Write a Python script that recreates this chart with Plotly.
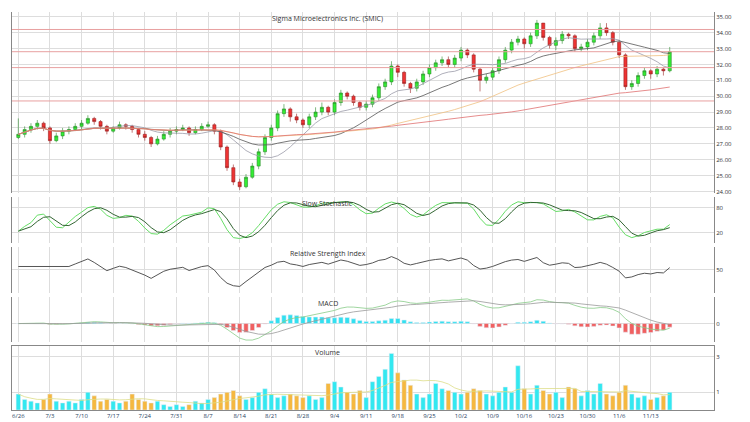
import pandas as pd
import plotly.graph_objects as go

# daily OHLC
closes = [27.6,27.9,28.1,28.3,28.0,27.2,27.5,27.8,27.9,28.1,
          28.3,28.6,28.4,28.1,27.8,28.0,28.2,28.1,27.9,27.6,
          27.4,27.0,27.3,27.6,27.8,27.9,28.0,27.7,27.9,28.1,
          28.2,27.8,26.8,25.5,24.6,24.3,24.9,25.6,26.5,27.4,
          28.0,28.9,29.2,28.7,28.5,28.2,28.7,29.0,29.3,29.0,
          29.6,30.2,30.0,29.6,29.3,29.5,29.9,30.6,30.9,31.9,
          31.5,30.8,30.5,30.9,31.4,31.8,32.1,32.3,32.0,32.4,
          32.9,32.6,31.7,31.0,31.2,31.6,32.3,32.9,33.4,33.6,
          33.3,33.8,34.6,33.7,33.2,33.5,33.9,33.8,33.0,33.1,
          33.4,33.8,34.3,34.0,33.4,32.6,30.6,30.8,31.3,31.6,
          31.4,31.7,31.6,32.8]
opens = [27.4,27.6,27.9,28.1,28.3,28.0,27.2,27.5,27.8,27.9,
         28.1,28.3,28.6,28.4,28.1,27.8,28.0,28.2,28.1,27.9,
         27.6,27.4,27.0,27.3,27.6,27.8,27.9,28.0,27.7,27.9,
         28.1,28.2,27.8,26.8,25.5,24.6,24.3,24.9,25.6,26.5,
         27.4,28.0,28.9,29.2,28.7,28.5,28.2,28.7,29.0,29.3,
         29.0,29.6,30.2,30.0,29.6,29.3,29.5,29.9,30.6,30.9,
         31.9,31.5,30.8,30.5,30.9,31.4,31.8,32.1,32.3,32.0,
         32.4,32.9,32.6,31.7,31.0,31.2,31.6,32.3,32.9,33.4,
         33.6,33.3,33.8,34.6,33.7,33.2,33.5,33.9,33.8,33.0,
         33.1,33.4,33.8,34.3,34.0,33.4,32.6,30.6,30.8,31.3,
         31.6,31.4,31.7,31.6]
highs = [28.6,28.1,28.3,28.5,28.4,28.1,27.7,28.0,28.1,28.3,
         28.5,28.8,28.7,28.5,28.2,28.1,28.4,28.3,28.2,28.0,
         27.8,27.5,27.5,27.8,28.0,28.1,28.2,28.1,28.1,28.3,
         28.4,28.3,27.9,26.9,25.7,24.8,25.1,25.8,26.7,27.6,
         28.2,29.1,29.5,29.3,28.9,28.6,28.9,29.3,29.6,29.4,
         29.8,30.4,30.3,30.1,29.7,29.7,30.1,30.8,31.1,32.2,
         32.0,31.6,30.9,31.1,31.6,32.0,32.3,32.5,32.5,32.6,
         33.1,33.0,32.7,31.8,31.4,31.8,32.5,33.1,33.6,33.8,
         33.7,34.0,34.8,34.6,33.8,33.7,34.1,34.0,33.9,33.3,
         33.6,34.0,34.6,34.6,34.1,33.5,32.7,31.0,31.5,31.8,
         31.7,31.9,31.8,33.1]
lows = [27.3,27.4,27.7,27.9,27.8,27.0,27.1,27.3,27.6,27.8,
        27.9,28.2,28.2,27.9,27.6,27.7,27.9,27.9,27.7,27.4,
        27.2,26.8,26.9,27.2,27.4,27.6,27.8,27.5,27.6,27.8,
        28.0,27.6,26.6,25.3,24.4,24.1,24.2,24.8,25.4,26.3,
        27.2,27.8,28.7,28.4,28.3,28.0,28.0,28.5,28.8,28.8,
        28.8,29.4,29.8,29.4,29.1,29.1,29.3,29.7,30.4,30.7,
        31.2,30.6,30.2,30.3,30.7,31.2,31.6,31.9,31.8,31.8,
        32.2,32.4,31.5,30.3,30.8,31.0,31.4,32.1,32.7,33.2,
        33.0,33.1,33.6,33.5,33.0,32.9,33.3,33.6,32.8,32.8,
        32.9,33.2,33.6,33.8,33.2,32.4,30.4,30.4,30.6,31.1,
        31.1,31.2,31.3,31.5]
volumes = [0.9,0.6,0.5,0.4,0.6,0.9,0.5,0.4,0.5,0.4,
           0.6,1.0,0.8,0.5,0.6,0.5,0.4,0.5,0.9,0.6,
           0.5,0.4,0.5,0.3,0.2,0.3,0.2,0.3,0.5,0.4,
           0.6,0.7,0.9,1.0,1.1,0.8,0.6,0.7,1.0,1.2,
           0.9,0.7,0.8,0.9,0.8,0.7,0.8,0.6,0.7,1.5,
           1.6,1.3,1.0,0.9,1.1,0.7,1.6,1.9,2.3,3.2,
           2.1,1.7,1.4,0.9,0.7,0.9,1.5,1.2,1.1,1.0,
           0.9,1.0,1.2,1.1,0.9,0.8,1.0,1.3,1.0,2.5,
           1.2,0.9,1.4,1.1,0.9,1.0,0.7,1.3,1.2,0.8,
           1.1,0.9,1.5,0.9,0.8,1.0,1.4,0.9,0.7,0.8,
           0.6,0.7,0.8,1.0]
levels = [34.2, 32.8, 31.8, 29.7]
title = "Sigma Microelectronics Inc. (SMIC)"

dates = pd.bdate_range("2023-06-26", periods=len(closes))
x = list(range(len(closes)))
c = pd.Series(closes)

fig = go.Figure()
fig.add_trace(go.Candlestick(x=x, open=opens, high=highs, low=lows, close=closes,
                             increasing=dict(line=dict(color="#2a8a2a", width=0.6), fillcolor="#33ee33"),
                             decreasing=dict(line=dict(color="#992222", width=0.6), fillcolor="#ee3333"),
                             whiskerwidth=0, showlegend=False))
for w, col in [(10, "#9a9aa8"), (20, "#555555"), (40, "#f0c080"), (80, "#e07070")]:
    fig.add_trace(go.Scatter(x=x, y=c.rolling(w, min_periods=1).mean(), mode="lines",
                             line=dict(color=col, width=0.8), showlegend=False))
for lv in levels:
    fig.add_hline(y=lv, line=dict(color="#e8a0a0", width=1), yref="y")

# stochastic
lo14 = pd.Series(lows).rolling(14, min_periods=1).min()
hi14 = pd.Series(highs).rolling(14, min_periods=1).max()
k = (100 * (c - lo14) / (hi14 - lo14)).rolling(3, min_periods=1).mean()
d = k.rolling(3, min_periods=1).mean()
fig.add_trace(go.Scatter(x=x, y=k, yaxis="y2", mode="lines", line=dict(color="#66dd66", width=1), showlegend=False))
fig.add_trace(go.Scatter(x=x, y=d, yaxis="y2", mode="lines", line=dict(color="#336633", width=1), showlegend=False))

# RSI (warm-up period held flat)
delta = c.diff().fillna(0)
up = delta.clip(lower=0).ewm(alpha=1 / 14).mean()
dn = (-delta.clip(upper=0)).ewm(alpha=1 / 14).mean()
rsi = (100 - 100 / (1 + up / dn)).fillna(50)
rsi.iloc[:8] = rsi.iloc[8]
fig.add_trace(go.Scatter(x=x, y=rsi, yaxis="y3", mode="lines", line=dict(color="#555555", width=1), showlegend=False))

# MACD
macd = c.ewm(span=12).mean() - c.ewm(span=26).mean()
sig = macd.ewm(span=9).mean()
hist = macd - sig
fig.add_trace(go.Bar(x=x, y=hist, yaxis="y4", marker_color=["#33e0f0" if h >= 0 else "#f06060" for h in hist],
                     showlegend=False))
fig.add_trace(go.Scatter(x=x, y=macd, yaxis="y4", mode="lines", line=dict(color="#88cc88", width=0.8), showlegend=False))
fig.add_trace(go.Scatter(x=x, y=sig, yaxis="y4", mode="lines", line=dict(color="#999999", width=0.8), showlegend=False))

# volume
vcol = ["#33e8f0" if cl >= op else "#f5b840" for op, cl in zip(opens, closes)]
fig.add_trace(go.Bar(x=x, y=volumes, yaxis="y5", marker_color=vcol, showlegend=False))
fig.add_trace(go.Scatter(x=x, y=pd.Series(volumes).rolling(10, min_periods=1).mean(), yaxis="y5",
                         mode="lines", line=dict(color="#dddd88", width=0.8), showlegend=False))

ticks = x[::5]
ax = dict(side="right", showgrid=True, gridcolor="#dddddd", tickfont=dict(size=6, color="#333"),
          showline=True, linecolor="#888", mirror=True, zeroline=False, anchor="x")
fig.update_layout(
    width=750, height=422, margin=dict(l=4, r=44, t=4, b=20),
    paper_bgcolor="#ffffff", plot_bgcolor="#ffffff", bargap=0.3,
    xaxis=dict(range=[-1, len(x) + 6], rangeslider=dict(visible=False), tickvals=ticks, anchor="y5",
               ticktext=[dates[i].strftime("%-m/%-d") for i in ticks], tickfont=dict(size=6),
               showgrid=True, gridcolor="#dddddd", showline=True, linecolor="#888", mirror=True),
    yaxis=dict(ax, domain=[0.545, 1.0], range=[23.9, 35.3], dtick=1, tickformat=".2f"),
    yaxis2=dict(ax, domain=[0.42, 0.535], range=[-5, 105], tickvals=[20, 80]),
    yaxis3=dict(ax, domain=[0.295, 0.41], range=[10, 90], tickvals=[50]),
    yaxis4=dict(ax, domain=[0.17, 0.285], tickvals=[0]),
    yaxis5=dict(ax, domain=[0.0, 0.16], range=[0, 3.6], tickvals=[1, 3]),
)
for yy, txt in [(1.0, title), (0.535, "Slow Stochastic"), (0.41, "Relative Strength Index"),
                (0.285, "MACD"), (0.16, "Volume")]:
    fig.add_annotation(x=0.45, y=yy, xref="paper", yref="paper", text=txt, showarrow=False,
                       yanchor="top", font=dict(size=7, color="#333"))
fig.write_html("out.html")
